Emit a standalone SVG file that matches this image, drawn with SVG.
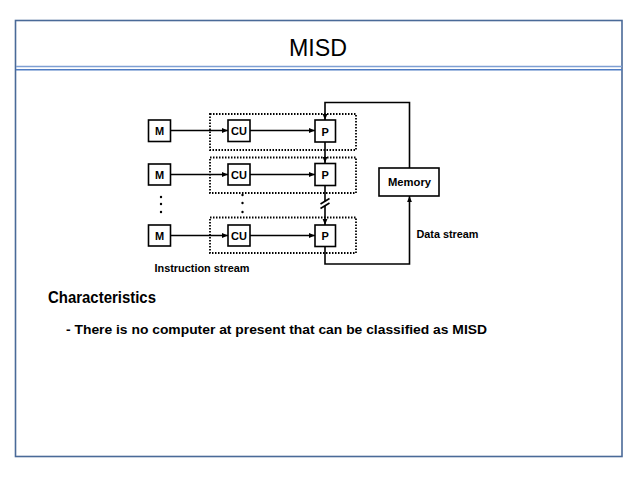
<svg xmlns="http://www.w3.org/2000/svg" width="638" height="478" viewBox="0 0 638 478">
<defs>
<marker id="ah" viewBox="0 0 10 10" refX="10" refY="5" markerWidth="6" markerHeight="6" orient="auto" markerUnits="userSpaceOnUse">
<path d="M0,1 L10,5 L0,9 z" fill="#000"/>
</marker>
<style>
.box{fill:#fff;stroke:#000;stroke-width:1.6}
.grp{fill:none;stroke:#000;stroke-width:1.8;stroke-dasharray:1.5 1.5}
.lbl{font-family:"Liberation Sans",Arial,sans-serif;font-weight:bold;font-size:11px;fill:#000;text-anchor:middle}
.ln{fill:none;stroke:#000;stroke-width:1.6}
.dot{fill:#000}
</style>
</defs>
<rect width="638" height="478" fill="#fff"/>
<rect x="15.5" y="20.5" width="606.5" height="436" fill="none" stroke="#4a6a98" stroke-width="1.6"/>
<line x1="16" y1="66.5" x2="622" y2="66.5" stroke="#7f9fd3" stroke-width="1.4"/>
<line x1="16" y1="69.8" x2="622" y2="69.8" stroke="#4f7cc4" stroke-width="1.4"/>
<text x="318" y="56" font-family="'Liberation Sans',Arial,sans-serif" font-size="24" text-anchor="middle" textLength="58" lengthAdjust="spacingAndGlyphs" fill="#000">MISD</text>

<g id="groups">
<rect class="grp" x="210" y="114" width="146" height="36"/>
<rect class="grp" x="210" y="157.5" width="146" height="35.5"/>
<rect class="grp" x="210" y="217.5" width="146" height="35.5"/>
</g>

<g id="connectors">
<line class="ln" x1="171" y1="130.5" x2="228" y2="130.5" marker-end="url(#ah)"/>
<line class="ln" x1="250" y1="130.5" x2="315" y2="130.5" marker-end="url(#ah)"/>
<line class="ln" x1="171" y1="174.5" x2="228" y2="174.5" marker-end="url(#ah)"/>
<line class="ln" x1="250" y1="174.5" x2="315" y2="174.5" marker-end="url(#ah)"/>
<line class="ln" x1="171" y1="235.5" x2="228" y2="235.5" marker-end="url(#ah)"/>
<line class="ln" x1="250" y1="235.5" x2="315" y2="235.5" marker-end="url(#ah)"/>
<line class="ln" x1="325" y1="142" x2="325" y2="163" marker-end="url(#ah)"/>
<line class="ln" x1="325" y1="185.5" x2="325" y2="201"/>
<line class="ln" x1="325" y1="206" x2="325" y2="225" marker-end="url(#ah)"/>
<line class="ln" x1="320.5" y1="204" x2="329.5" y2="198.5"/>
<line class="ln" x1="320.5" y1="208.5" x2="329.5" y2="203"/>
<polyline class="ln" points="409.5,168 409.5,102.5 325,102.5 325,120" marker-end="url(#ah)"/>
<polyline class="ln" points="325,246.5 325,264 409.5,264 409.5,196" marker-end="url(#ah)"/>
</g>

<g id="dots">
<circle class="dot" cx="161" cy="197" r="1.2"/>
<circle class="dot" cx="161" cy="204" r="1.2"/>
<circle class="dot" cx="161" cy="212" r="1.2"/>
<circle class="dot" cx="242.5" cy="195" r="1.2"/>
<circle class="dot" cx="242.5" cy="203" r="1.2"/>
<circle class="dot" cx="242.5" cy="212" r="1.2"/>
</g>

<g id="m1"><rect class="box" x="148.5" y="120" width="22" height="21.5"/><text class="lbl" x="159.5" y="135">M</text></g>
<g id="cu1"><rect class="box" x="228" y="120" width="22" height="21.5"/><text class="lbl" x="239" y="135">CU</text></g>
<g id="p1"><rect class="box" x="315" y="120" width="20.5" height="22"/><text class="lbl" x="325.2" y="135.5">P</text></g>

<g id="m2"><rect class="box" x="148.5" y="164" width="22" height="21"/><text class="lbl" x="159.5" y="178.5">M</text></g>
<g id="cu2"><rect class="box" x="228" y="164" width="22" height="21"/><text class="lbl" x="239" y="178.5">CU</text></g>
<g id="p2"><rect class="box" x="315" y="163.5" width="20.5" height="22"/><text class="lbl" x="325.2" y="179">P</text></g>

<g id="m3"><rect class="box" x="148.5" y="225" width="22" height="21"/><text class="lbl" x="159.5" y="239.5">M</text></g>
<g id="cu3"><rect class="box" x="228" y="225" width="22" height="21"/><text class="lbl" x="239" y="239.5">CU</text></g>
<g id="p3"><rect class="box" x="315" y="225" width="20.5" height="21.5"/><text class="lbl" x="325.2" y="240">P</text></g>

<g id="memory"><rect class="box" x="379" y="168" width="60" height="28"/><text class="lbl" x="409.5" y="186" textLength="43" lengthAdjust="spacingAndGlyphs">Memory</text></g>

<text class="lbl" x="447.5" y="238" textLength="62" lengthAdjust="spacingAndGlyphs">Data stream</text>
<text class="lbl" x="202" y="272" textLength="95" lengthAdjust="spacingAndGlyphs">Instruction stream</text>

<text x="48" y="303" font-family="'Liberation Sans',Arial,sans-serif" font-weight="bold" font-size="16" textLength="108" lengthAdjust="spacingAndGlyphs" fill="#000">Characteristics</text>
<text x="66" y="334" font-family="'Liberation Sans',Arial,sans-serif" font-weight="bold" font-size="13.5" textLength="421" lengthAdjust="spacingAndGlyphs" fill="#000">- There is no computer at present that can be classified as MISD</text>
</svg>
